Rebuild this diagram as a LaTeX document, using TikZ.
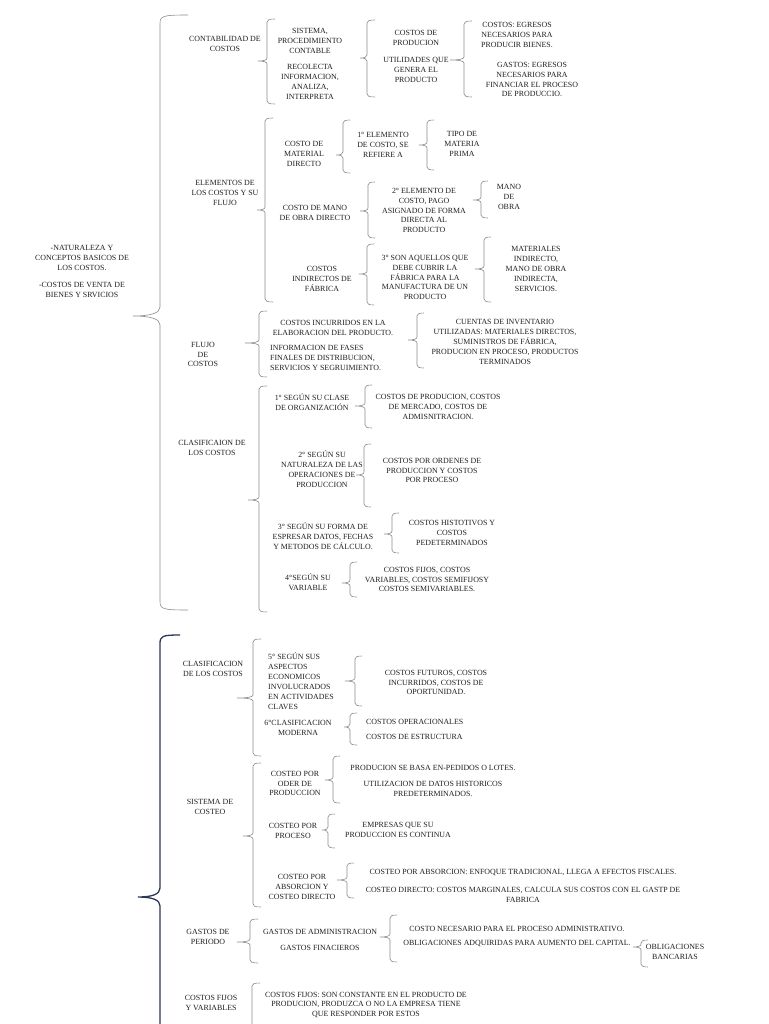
\documentclass[tikz,border=0pt]{standalone}
\usepackage{fontspec}
\setmainfont{Liberation Serif}
\definecolor{txt}{HTML}{202020}
\definecolor{brc}{HTML}{8C8C8C}
\definecolor{navy}{HTML}{2A3856}
\newcommand{\cbr}[8][br]{%
  \draw[#1] ({#2+#7},{#3}) .. controls ({#2+2},{#3}) and ({#2},{#3+1}) .. ({#2},{#3+#8})
   -- ({#2},{#5-#8}) .. controls ({#2},{#5-#8/3}) and ({#2-(#2-#6)/3},{#5}) .. ({#6},{#5})
   .. controls ({#2-(#2-#6)/3},{#5}) and ({#2},{#5+#8/3}) .. ({#2},{#5+#8})
   -- ({#2},{#4-#8}) .. controls ({#2},{#4-1}) and ({#2+2},{#4}) .. ({#2+#7},{#4});}
\begin{document}
\begin{tikzpicture}[x=1pt,y=-1pt,
  t/.style={font=\fontsize{7.9}{9.9}\selectfont,align=center,inner sep=0pt,text=txt},
  tl/.style={t,align=left,anchor=west},
  br/.style={draw=brc,line width=0.6pt},
  bigbr/.style={draw=navy,line width=1.3pt}]
\useasboundingbox (0,0) rectangle (768,1024);
\clip (0,0) rectangle (768,1024);
\fill[white] (0,0) rectangle (768,1024);
% ---------- part 1
\node[t] (a1) at (82,258) {-NATURALEZA Y\\CONCEPTOS BASICOS DE\\LOS COSTOS.};
\node[t] (a2) at (82,290) {-COSTOS DE VENTA DE\\BIENES Y SRVICIOS};
\cbr{160}{15}{610}{316}{133}{28}{9}
% contabilidad
\node[t] (b1) at (225,44) {CONTABILIDAD DE\\COSTOS};
\cbr{267}{19}{104}{61}{258}{8}{3}
\node[t] (c1) at (310,41) {SISTEMA,\\PROCEDIMIENTO\\CONTABLE};
\node[t] (c2) at (310,82) {RECOLECTA\\INFORMACION,\\ANALIZA,\\INTERPRETA};
\cbr{367}{20}{97}{58}{360}{8}{3}
\node[t] (d1) at (416,38) {COSTOS DE\\PRODUCION};
\node[t] (d2) at (416,70) {UTILIDADES QUE\\GENERA EL\\PRODUCTO};
\cbr{464}{21}{97}{60}{450}{8}{3}
\node[t] (e1) at (517,35) {COSTOS: EGRESOS\\NECESARIOS PARA\\PRODUCIR BIENES.};
\node[t] (e2) at (532,79.5) {GASTOS: EGRESOS\\NECESARIOS PARA\\FINANCIAR EL PROCESO\\DE PRODUCCIO.};
% elementos
\node[t] (b2) at (225,193) {ELEMENTOS DE\\LOS COSTOS Y SU\\FLUJO};
\cbr{265}{118}{302}{210}{257}{8}{3}
\node[t] (f1) at (304,154) {COSTO DE\\MATERIAL\\DIRECTO};
\cbr{343}{120}{173}{155}{336}{7}{3}
\node[t] (g1) at (383,145) {1° ELEMENTO\\DE COSTO, SE\\REFIERE A};
\cbr{427}{120}{170}{145}{419}{7}{3}
\node[t] (h1) at (462,144) {TIPO DE\\MATERIA\\PRIMA};
\node[t] (f2) at (315,212.5) {COSTO DE MANO\\DE OBRA DIRECTO};
\cbr{368}{182}{238}{211}{360}{7}{3}
\node[t] (g2) at (424,210.5) {2° ELEMENTO DE\\COSTO, PAGO\\ASIGNADO DE FORMA\\DIRECTA AL\\PRODUCTO};
\cbr{481}{181}{218}{200}{473}{7}{3}
\node[t] (h2) at (509,197) {MANO\\DE\\OBRA};
\node[t] (f3) at (322,279) {COSTOS\\INDIRECTOS DE\\FÁBRICA};
\cbr{367}{244}{305}{274}{359}{7}{3}
\node[t] (g3) at (425,277.5) {3° SON AQUELLOS QUE\\DEBE CUBRIR LA\\FÁBRICA PARA LA\\MANUFACTURA DE UN\\PRODUCTO};
\cbr{484}{237}{302}{269}{475}{7}{3}
\node[t] (h3) at (536,269) {MATERIALES\\INDIRECTO,\\MANO DE OBRA\\INDIRECTA,\\SERVICIOS.};
% flujo
\node[t] (b3) at (203,354.5) {FLUJO\\DE\\COSTOS};
\cbr{259}{311}{377}{343}{245}{8}{3}
\node[t] (i1) at (333,328) {COSTOS INCURRIDOS EN LA\\ELABORACION DEL PRODUCTO.};
\node[tl] (i2) at (270,358) {INFORMACION DE FASES\\FINALES DE DISTRIBUCION,\\SERVICIOS Y SEGRUIMIENTO.};
\cbr{417}{313}{368}{340}{408}{7}{3}
\node[t] (j1) at (505,342) {CUENTAS DE INVENTARIO\\UTILIZADAS: MATERIALES DIRECTOS,\\SUMINISTROS DE FÁBRICA,\\PRODUCION EN PROCESO, PRODUCTOS\\TERMINADOS};
% clasificacion
\node[t] (b4) at (212,448) {CLASIFICAION DE\\LOS COSTOS};
\cbr{259}{386}{612}{500}{248}{8}{3}
\node[t] (k1) at (312,402.5) {1° SEGÚN SU CLASE\\DE ORGANIZACIÓN};
\cbr{365}{385}{428}{406}{355}{7}{3}
\node[t] (l1) at (438,407) {COSTOS DE PRODUCION, COSTOS\\DE MERCADO, COSTOS DE\\ADMISNITRACION.};
\node[t] (k2) at (322,469) {2° SEGÚN SU\\NATURALEZA DE LAS\\OPERACIONES DE\\PRODUCCION};
\cbr{364}{444}{507}{475}{356}{7}{3}
\node[t] (l2) at (432,470.5) {COSTOS POR ORDENES DE\\PRODUCCION Y COSTOS\\POR PROCESO};
\node[t] (k3) at (323,536) {3° SEGÚN SU FORMA DE\\ESPRESAR DATOS, FECHAS\\Y METODOS DE CÁLCULO.};
\cbr{392}{513}{553}{534}{384}{7}{3}
\node[t] (l3) at (452,533) {COSTOS HISTOTIVOS Y\\COSTOS\\PEDETERMINADOS};
\node[t] (k4) at (308,582.5) {4°SEGÚN SU\\VARIABLE};
\cbr{350}{562}{597}{583}{342}{7}{3}
\node[t] (l4) at (427,579.5) {COSTOS FIJOS, COSTOS\\VARIABLES, COSTOS SEMIFIJOSY\\COSTOS SEMIVARIABLES.};
% ---------- part 2
\cbr[bigbr]{160}{635}{1090}{897}{138}{20}{9}
\node[t] (m1) at (213,668.5) {CLASIFICACION\\DE LOS COSTOS};
\cbr{253}{639}{756}{698}{237}{8}{3}
\node[tl] (n1) at (268,681) {5° SEGÚN SUS\\ASPECTOS\\ECONOMICOS\\INVOLUCRADOS\\EN ACTIVIDADES\\CLAVES};
\cbr{355}{656}{706}{681}{345}{7}{3}
\node[t] (o1) at (436,682.5) {COSTOS FUTUROS, COSTOS\\INCURRIDOS, COSTOS DE\\OPORTUNIDAD.};
\node[t] (n2) at (298,727.5) {6°CLASIFICACION\\MODERNA};
\cbr{350}{713}{745}{727}{344}{7}{3}
\node[tl] (o2) at (366,722) {COSTOS OPERACIONALES};
\node[tl] (o3) at (366,737) {COSTOS DE ESTRUCTURA};
% sistema de costeo
\node[t] (m2) at (210,807) {SISTEMA DE\\COSTEO};
\cbr{253}{763}{907}{836}{243}{8}{3}
\node[t] (p1) at (295,783.5) {COSTEO POR\\ODER DE\\PRODUCCION};
\cbr{333}{756}{803}{780}{325}{7}{3}
\node[t] (q1) at (433,768) {PRODUCION SE BASA EN-PEDIDOS O LOTES.};
\node[t] (q2) at (433,789) {UTILIZACION DE DATOS HISTORICOS\\PREDETERMINADOS.};
\node[t] (p2) at (293,831) {COSTEO POR\\PROCESO};
\cbr{328}{814}{848}{830}{322}{7}{3}
\node[t] (q3) at (398,829.5) {EMPRESAS QUE SU\\PRODUCCION ES CONTINUA};
\node[t] (p3) at (302,887) {COSTEO POR\\ABSORCION Y\\COSTEO DIRECTO};
\cbr{347}{863}{898}{880}{337}{7}{3}
\node[t] (q4) at (523,873) {COSTEO POR ABSORCION: ENFOQUE TRADICIONAL, LLEGA A EFECTOS FISCALES.};
\node[t] (q5) at (523,894.5) {COSTEO DIRECTO: COSTOS MARGINALES, CALCULA SUS COSTOS CON EL GASTP DE\\FABRICA};
% gastos de periodo
\node[t] (m3) at (208,937) {GASTOS DE\\PERIODO};
\cbr{250}{919}{963}{942}{237}{8}{3}
\node[t] (r1) at (320,932) {GASTOS DE ADMINISTRACION};
\node[t] (r2) at (320,948) {GASTOS FINACIEROS};
\cbr{390}{915}{962}{937}{380}{7}{3}
\node[t] (s1) at (517,929) {COSTO NECESARIO PARA EL PROCESO ADMINISTRATIVO.};
\node[t] (s2) at (517,944) {OBLIGACIONES ADQUIRIDAS PARA AUMENTO DEL CAPITAL.};
\cbr{641}{940}{967}{947}{633}{7}{3}
\node[t] (t1) at (675,952) {OBLIGACIONES\\BANCARIAS};
% costos fijos y variables
\node[t] (m4) at (211,1002.5) {COSTOS FIJOS\\Y VARIABLES};
\cbr{252}{983}{1100}{1060}{240}{8}{3}
\node[t] (u1) at (366,1005) {COSTOS FIJOS: SON CONSTANTE EN EL PRODUCTO DE\\PRODUCION, PRODUZCA O NO LA EMPRESA TIENE\\QUE RESPONDER POR ESTOS};
\end{tikzpicture}
\end{document}
